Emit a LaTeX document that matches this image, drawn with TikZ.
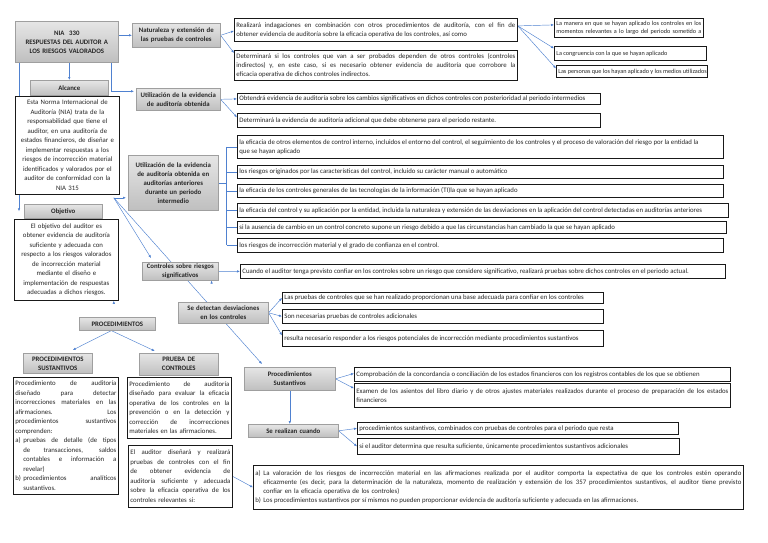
\documentclass[tikz,border=0pt]{standalone}
\usepackage{fontspec}
\setmainfont{Carlito}
\usetikzlibrary{arrows.meta,calc,shadows}
\pgfdeclarelayer{bg}\pgfsetlayers{bg,main}
\definecolor{cblue}{HTML}{4F81D0}
\newcommand\tfont{\fontsize{6.8}{8.9}\selectfont}
\newcommand\rfont{\fontsize{6.2}{8.6}\selectfont}
\newcommand\lfont{\fontsize{6.8}{9.5}\selectfont}
\newcommand\gfont{\fontsize{6.8}{9}\selectfont\bfseries}
\newlength\lind \setlength\lind{8pt}
\newcommand\jl[1]{\makebox[\hsize][s]{\spaceskip=0pt\xspaceskip=0pt #1}}
\newcommand\ji[1]{\hspace*{\lind}\makebox[\dimexpr\hsize-\lind\relax][s]{\spaceskip=0pt\xspaceskip=0pt #1}}
\newcommand\jn[1]{\hspace*{\lind}#1}
\newcommand\la[2]{\makebox[\lind][l]{#1}\makebox[\dimexpr\hsize-\lind\relax][s]{\spaceskip=0pt\xspaceskip=0pt #2}}
\newcommand\lb[2]{\makebox[\lind][l]{#1}#2}
\newcommand\sline[1]{\mbox{\spaceskip=0pt\xspaceskip=0pt #1}}
\newcommand\bx[7]{\pgfmathsetmacro\bw{#5-#3}\pgfmathsetmacro\bh{#6-#4}\pgfmathsetmacro\tw{#5-#3-4}%
  \node[#2,minimum width=\bw pt,minimum height=\bh pt,text width=\tw pt] (#1) at (#3,#4) {#7};}
\tikzset{
  gbox/.style={anchor=north west, top color=gray!20, bottom color=gray!50, draw=gray!75, line width=0.6pt,
    font=\gfont, text=black!85, align=center, inner xsep=2pt, inner ysep=1pt,
    drop shadow={shadow xshift=1pt,shadow yshift=-1pt,fill=black,opacity=0.3}},
  tbox/.style={anchor=north west, draw=black!90, line width=0.8pt, fill=white, align=left,
    inner xsep=2pt, inner ysep=1pt, font=\tfont, text=black!85,
    drop shadow={shadow xshift=0.8pt,shadow yshift=-0.8pt,fill=black,opacity=0.2}},
  rbox/.style={tbox, font=\rfont},
  lbox/.style={tbox, font=\lfont},
  cbox/.style={lbox, align=center},
  conn/.style={draw=cblue, line width=0.45pt},
  arr/.style={conn, -{Latex[length=3pt,width=2.4pt]}}
}
\begin{document}
\begin{tikzpicture}[x=1pt,y=-1pt]
\useasboundingbox (0,0) rectangle (768,543);
% left column
\bx{title}{gbox}{15}{21}{118}{62}{NIA\ \ 330\\RESPUESTAS DEL AUDITOR A\\LOS RIESGOS VALORADOS}
\bx{alch}{gbox}{30}{80}{108}{95}{Alcance}
\bx{alc}{cbox}{15}{96}{119}{194}{Esta Norma Internacional de\\Auditoría (NIA) trata de la\\responsabilidad que tiene el\\auditor, en una auditoría de\\estados financieros, de diseñar e\\implementar respuestas a los\\riesgos de incorrección material\\identificados y valorados por el\\auditor de conformidad con la\\NIA 315}
\bx{objh}{gbox}{24}{204}{102}{218}{Objetivo}
\bx{obj}{cbox}{14}{219}{118}{300}{El objetivo del auditor es\\obtener evidencia de auditoría\\suficiente y adecuada con\\respecto a los riesgos valorados\\de incorrección material\\mediante el diseño e\\implementación de respuestas\\adecuadas a dichos riesgos.}
\bx{proc}{gbox}{79}{317}{155}{330}{PROCEDIMIENTOS}
\bx{psth}{gbox}{23}{353}{92}{373}{PROCEDIMIENTOS\\SUSTANTIVOS}
\bx{pst}{lbox}{13}{377}{118}{494}{\jl{Procedimiento de auditoría}\\\jl{diseñado para detectar}\\\jl{incorrecciones materiales en las}\\\jl{afirmaciones. Los}\\\jl{procedimientos sustantivos}\\comprenden:\\\la{a)}{pruebas de detalle (de tipos}\\\ji{de transacciones, saldos}\\\ji{contables e información a}\\\jn{revelar)}\\\la{b)}{procedimientos analíticos}\\\jn{sustantivos.}}
\bx{prch}{gbox}{139}{353}{218}{375}{PRUEBA DE\\CONTROLES}
\bx{prc}{lbox}{127}{377}{231}{438}{\jl{Procedimiento de auditoría}\\\jl{diseñado para evaluar la eficacia}\\\jl{operativa de los controles en la}\\\jl{prevención o en la detección y}\\\jl{corrección de incorrecciones}\\materiales en las afirmaciones.}
\bx{ea}{lbox}{128}{445}{232}{507}{\jl{El auditor diseñará y realizará}\\\jl{pruebas de controles con el fin}\\\jl{de obtener evidencia de}\\\jl{auditoría suficiente y adecuada}\\\jl{sobre la eficacia operativa de los}\\controles relevantes si:}
% top
\bx{nat}{gbox}{132}{23}{220}{47}{Naturaleza y extensión de\\las pruebas de controles}
\bx{n1}{tbox}{234}{18}{517}{41}{\jl{Realizará indagaciones en combinación con otros procedimientos de auditoría, con el fin de}\\\sline{obtener evidencia de auditoría sobre la eficacia operativa de los controles, así como}}
\bx{n2}{tbox}{234}{50}{517}{80}{\jl{Determinará si los controles que van a ser probados dependen de otros controles (controles}\\\jl{indirectos) y, en este caso, si es necesario obtener evidencia de auditoría que corrobore la}\\\sline{eficacia operativa de dichos controles indirectos.}}
\bx{r1}{rbox}{554}{18}{703}{37}{\jl{La manera en que se hayan aplicado los controles en los}\\\jl{momentos relevantes a lo largo del periodo sometido a}}
\bx{r2}{rbox}{554}{46}{706}{60}{\sline{La congruencia con la que se hayan aplicado}}
\bx{r3}{rbox}{556}{65}{707}{77}{\sline{Las personas que los hayan aplicado y los medios utilizados.}}
\bx{utl}{gbox}{136}{88}{220}{110}{Utilización de la evidencia\\de auditoría obtenida}
\bx{u1}{tbox}{237}{93}{600}{104}{\sline{Obtendrá evidencia de auditoría sobre los cambios significativos en dichos controles con posterioridad al periodo intermedios}}
\bx{u2}{tbox}{237}{113}{600}{127}{\sline{Determinará la evidencia de auditoría adicional que debe obtenerse para el periodo restante.}}
% middle
\bx{utla}{gbox}{128}{155}{218}{210}{Utilización de la evidencia\\de auditoría obtenida en\\auditorías anteriores\\durante un periodo\\intermedio}
\bx{b1}{tbox}{237}{135}{723}{158}{\sline{la eficacia de otros elementos de control interno, incluidos el entorno del control, el seguimiento de los controles y el proceso de valoración del riesgo por la entidad la}\\\sline{que se hayan aplicado}}
\bx{b2}{tbox}{237}{165}{723}{178}{\sline{los riesgos originados por las características del control, incluido su carácter manual o automático}}
\bx{b3}{tbox}{237}{184}{723}{197}{\sline{la eficacia de los controles generales de las tecnologías de la información (TI)la que se hayan aplicado}}
\bx{b4}{tbox}{237}{203}{728}{217}{\sline{la eficacia del control y su aplicación por la entidad, incluida la naturaleza y extensión de las desviaciones en la aplicación del control detectadas en auditorías anteriores}}
\bx{b5}{tbox}{237}{221}{726}{233}{\sline{si la ausencia de cambio en un control concreto supone un riesgo debido a que las circunstancias han cambiado la que se hayan aplicado}}
\bx{b6}{tbox}{237}{238}{723}{252}{\sline{los riesgos de incorrección material y el grado de confianza en el control.}}
\bx{crs}{gbox}{142}{262}{218}{280}{Controles sobre riesgos\\significativos}
\bx{cs}{tbox}{240}{264}{725}{278}{\sline{Cuando el auditor tenga previsto confiar en los controles sobre un riesgo que considere significativo, realizará pruebas sobre dichos controles en el periodo actual.}}
\bx{sd}{gbox}{178}{302}{268}{323}{Se detectan desviaciones\\en los controles}
\bx{s1}{tbox}{282}{292}{603}{303}{\sline{Las pruebas de controles que se han realizado proporcionan una base adecuada para confiar en los controles}}
\bx{s2}{tbox}{282}{309}{603}{323}{\sline{Son necesarias pruebas de controles adicionales}}
\bx{s3}{tbox}{282}{330}{603}{346}{\sline{resulta necesario responder a los riesgos potenciales de incorrección mediante procedimientos sustantivos}}
% bottom
\bx{ps}{gbox}{244}{367}{335}{390}{Procedimientos\\Sustantivos}
\bx{p1}{tbox}{354}{367}{730}{381}{\sline{Comprobación de la concordancia o conciliación de los estados financieros con los registros contables de los que se obtienen}}
\bx{p2}{tbox}{354}{383}{730}{407}{\jl{Examen de los asientos del libro diario y de otros ajustes materiales realizados durante el proceso de preparación de los estados}\\financieros}
\bx{sr}{gbox}{248}{424}{338}{437}{Se realizan cuando}
\bx{w1}{tbox}{357}{422}{678}{434}{\sline{procedimientos sustantivos, combinados con pruebas de controles para el periodo que resta}}
\bx{w2}{tbox}{357}{438}{679}{454}{\sline{si el auditor determina que resulta suficiente, únicamente procedimientos sustantivos adicionales}}
\bx{bot}{tbox}{253}{465}{743}{509}{\la{a)}{La valoración de los riesgos de incorrección material en las afirmaciones realizada por el auditor comporta la expectativa de que los controles estén operando}\\\ji{eficazmente (es decir, para la determinación de la naturaleza, momento de realización y extensión de los 357 procedimientos sustantivos, el auditor tiene previsto}\\\jn{confiar en la eficacia operativa de los controles)}\\\lb{b)}{\sline{Los procedimientos sustantivos por sí mismos no pueden proporcionar evidencia de auditoría suficiente y adecuada en las afirmaciones.}}}
% connectors
\begin{pgfonlayer}{bg}
\draw[arr] (title.east |- nat.west) -- (nat.west);
\draw[arr] (alch.north |- title.south) -- (alch.north);
\coordinate (tl) at ($(title.south west)+(4,0)$);
\draw[arr] (tl) -- (tl |- objh.west);
\coordinate (tr) at ($(title.south east)+(-7,0)$);
\draw[arr] (tr) |- ($(utl.west)+(-2,-8)$);
\coordinate (hub) at ($(alc.south east)+(-6,3)$);
\draw[arr] (hub) -- ($(hub -| utla.west)+(-2,0)$);
\draw[arr] (hub) -- ($(crs.north west)+(9,-4)$);
\draw[arr] (hub) -- ($(ps.north west)+(18,-3)$);
\draw[arr] ($(obj.south east)+(-5,0)$) -- ($(obj.south east)+(-5,0)$ |- proc.north);
\draw[arr] ($(proc.south)+(-6,0)$) -- ($(psth.north)+(15,-3)$);
\draw[arr] ($(proc.south)+(-6,0)$) -- ($(prch.north)+(-24,-2)$);
\draw[arr] (nat.east) -- ($(n1.west)+(0,1)$);
\draw[arr] (nat.east) -- ($(n2.north west)+(0,3)$);
\draw[arr] ($(n1.east)+(0,-4)$) -- ($(r1.west)+(0,-3)$);
\draw[arr] ($(n1.east)+(0,-4)$) -- ($(r2.west)+(0,-5)$);
\draw[arr] ($(n1.east)+(0,-4)$) -- ($(r3.west)+(0,-3)$);
\draw[arr] (utl.east) -- ($(u1.west)+(0,0)$);
\draw[arr] (utl.east) -- ($(u2.west)+(0,-3)$);
\coordinate (bk) at ($(utla.east)+(8,0)$);
\draw[conn] (utla.east) -- (bk);
\draw[conn] (bk |- b1.west) -- (bk |- b6.west);
\foreach \b in {b1,b2,b3,b4,b5,b6} \draw[conn] (bk |- \b.west) -- (\b.west);
\draw[arr] (crs.east) -- (cs.west);
\draw[arr] ($(crs.south east)+(-7,0)$) -- ($(crs.south east)+(-7,0)$ |- sd.north);
\draw[arr] (sd.east) -- (s1.west);
\draw[arr] (sd.east) -- (s2.west);
\draw[arr] (sd.east) -- ($(s3.west)+(0,-3)$);
\draw[arr] (ps.east) -- ($(p1.west)+(0,-1)$);
\draw[arr] (ps.east) -- ($(p2.west)+(0,-7)$);
\draw[arr] (ps.south) -- (ps.south |- sr.north);
\draw[arr] (sr.east) -- (w1.west);
\draw[arr] (sr.east) -- (w2.west);
\draw[arr] (ea.east) -- (bot.west);
\end{pgfonlayer}
\end{tikzpicture}
\end{document}
